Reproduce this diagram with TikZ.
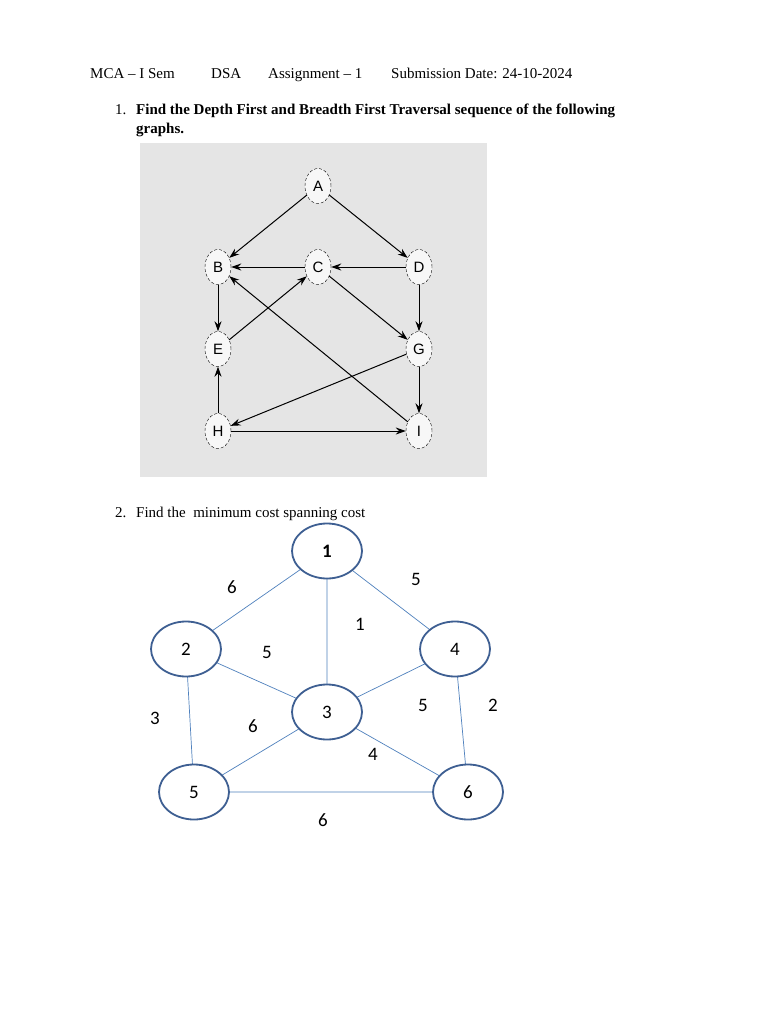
\documentclass[tikz,border=0pt]{standalone}
\usepackage{fontspec}
\setmainfont{Liberation Serif}
\newfontfamily\carl{Carlito}
\newfontfamily\ssf{Liberation Sans}
\usetikzlibrary{shapes.geometric,arrows.meta}
\definecolor{nodeblue}{HTML}{3E5F92}
\definecolor{edgeblue}{HTML}{4F81BD}
\begin{document}
\begin{tikzpicture}[x=1pt,y=-1pt,
 txt/.style={anchor=base west,inner sep=0pt,font=\fontsize{15}{17}\selectfont},
 gnode/.style={ellipse,draw,densely dashed,fill=white!70!black!10,minimum width=26pt,minimum height=35pt,inner sep=0pt,font=\ssf\fontsize{15}{15}\selectfont},
 garr/.style={-{Stealth[length=10pt,width=7pt]},line width=1pt},
 wnode/.style={ellipse,draw=nodeblue,line width=1.8pt,fill=white,minimum width=70pt,minimum height=55pt,inner sep=0pt,font=\carl\fontsize{19}{19}\selectfont},
 wedge/.style={draw=edgeblue,line width=0.7pt},
 wlab/.style={font=\carl\fontsize{19}{19}\selectfont,inner sep=0pt}]
\useasboundingbox (0,0) rectangle (768,1024);
\fill[white] (0,0) rectangle (768,1024);
\node[txt] (h1) at (90,79) {MCA – I Sem};
\node[txt] (h2) at (211,79) {DSA};
\node[txt] (h3) at (268,79) {Assignment – 1};
\node[txt] (h4) at (391,79) {Submission Date: 24-10-2024};
\node[txt] (n1) at (115,115) {1.};
\node[txt,font=\bfseries\fontsize{15}{17}\selectfont] (q1a) at (136,115) {Find the Depth First and Breadth First Traversal sequence of the following};
\node[txt,font=\bfseries\fontsize{15}{17}\selectfont] (q1b) at (136,134) {graphs.};
\fill[black!10] (140,143) rectangle (487,477);
\node[gnode] (A) at (318,186) {A};
\node[gnode] (B) at (218,267) {B};
\node[gnode] (C) at (318,267) {C};
\node[gnode] (D) at (419,267) {D};
\node[gnode] (E) at (218,349) {E};
\node[gnode] (G) at (419,349) {G};
\node[gnode] (H) at (218,431) {H};
\node[gnode] (I) at (419,431) {I};
\draw[garr] (A) -- (B);
\draw[garr] (A) -- (D);
\draw[garr] (C) -- (B);
\draw[garr] (D) -- (C);
\draw[garr] (B) -- (E);
\draw[garr] (E) -- (C);
\draw[garr] (C) -- (G);
\draw[garr] (D) -- (G);
\draw[garr] (I) -- (B);
\draw[garr] (G) -- (H);
\draw[garr] (G) -- (I);
\draw[garr] (H) -- (E);
\draw[garr] (H) -- (I);
\node[txt] (n2) at (115,517) {2.};
\node[txt] (q2) at (136,517) {Find the\ \ minimum cost spanning cost};
\coordinate (p1) at (327,551);
\coordinate (p2) at (186,649);
\coordinate (p3) at (327,712);
\coordinate (p4) at (455,649);
\coordinate (p5) at (194,792);
\coordinate (p6) at (468,792);
\draw[wedge] (p1)--(p2) (p1)--(p3) (p1)--(p4) (p2)--(p3) (p2)--(p5) (p4)--(p3) (p4)--(p6) (p3)--(p5) (p3)--(p6) (p5)--(p6);
\node[wnode,font=\carl\bfseries\fontsize{19}{19}\selectfont] (w1) at (p1) {1};
\node[wnode] (w2) at (p2) {2};
\node[wnode] (w3) at (p3) {3};
\node[wnode] (w4) at (p4) {4};
\node[wnode] (w5) at (p5) {5};
\node[wnode] (w6) at (p6) {6};
\node[wlab] (l1) at (232,587) {6};
\node[wlab] (l2) at (416,579) {5};
\node[wlab] (l3) at (360,624) {1};
\node[wlab] (l4) at (267,652) {5};
\node[wlab] (l5) at (155,718) {3};
\node[wlab] (l6) at (253,726) {6};
\node[wlab] (l7) at (423,705) {5};
\node[wlab] (l8) at (493,705) {2};
\node[wlab] (l9) at (373,754) {4};
\node[wlab] (l10) at (323,820) {6};
\end{tikzpicture}
\end{document}
